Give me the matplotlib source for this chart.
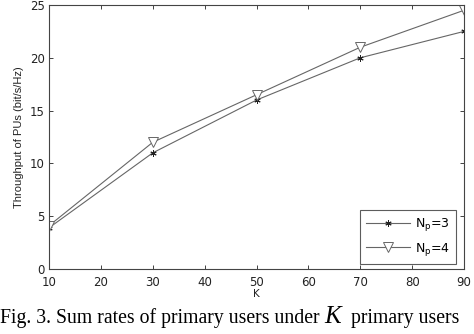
import matplotlib
matplotlib.use('Agg')
import matplotlib.pyplot as plt

# data
K = [10, 30, 50, 70, 90]
np3 = [3.9, 11.0, 16.0, 20.0, 22.5]
np4 = [4.1, 12.0, 16.5, 21.0, 24.5]
labels = [r'N$_\mathregular{p}$=3', r'N$_\mathregular{p}$=4']

plt.rcParams['font.family'] = ['DejaVu Sans']
plt.rcParams['mathtext.default'] = 'regular'

fig = plt.figure(figsize=(4.74, 3.34), dpi=100)
ax = fig.add_axes([0.1034, 0.1946, 0.8755, 0.7904])

lc = '#666666'
ax.plot(K, np3, color=lc, lw=0.8, marker=(6, 2, 0), ms=4.5, mec='#222222',
        mew=0.7, label=labels[0])
ax.plot(K, np4, color=lc, lw=0.8, marker='v', ms=7, mfc='white', mec=lc,
        mew=0.7, label=labels[1])

ax.set_xlim(10, 90)
ax.set_ylim(0, 25)
ax.set_xticks(range(10, 91, 10))
ax.set_yticks(range(0, 26, 5))
ax.tick_params(direction='in', length=3, width=0.6, labelsize=8.5,
               top=True, right=True, pad=3, colors='#222222')
ax.tick_params(axis='x', pad=5)
for s in ax.spines.values():
    s.set_linewidth(0.8)
    s.set_color('#444444')

ax.set_xlabel('K', fontsize=7.5, labelpad=0, color='#222222')
ax.set_ylabel('Throughput of PUs (bit/s/Hz)', fontsize=8, labelpad=4,
              family='Liberation Sans', color='#222222')

leg = ax.legend(loc='lower right', bbox_to_anchor=(0.981, 0.019),
                borderaxespad=0, fontsize=9, frameon=True, fancybox=False,
                edgecolor='#333333', handlelength=3.5, labelspacing=0.6,
                handletextpad=0.4, borderpad=0.5)
leg.get_frame().set_linewidth(0.8)

# caption with a larger italic K
cy = 0.033
t1 = fig.text(0.0, cy, 'Fig. 3. Sum rates of primary users under ',
              family='Liberation Serif', fontsize=14.2, va='baseline')
fig.canvas.draw()
bb = t1.get_window_extent()
t2 = fig.text(bb.x1 / fig.bbox.width, cy, 'K', family='Liberation Serif',
              style='italic', fontsize=18, va='baseline')
fig.canvas.draw()
bb2 = t2.get_window_extent()
fig.text(bb2.x1 / fig.bbox.width, cy, '  primary users',
         family='Liberation Serif', fontsize=14.2, va='baseline')

fig.savefig('out.png', dpi=100)
